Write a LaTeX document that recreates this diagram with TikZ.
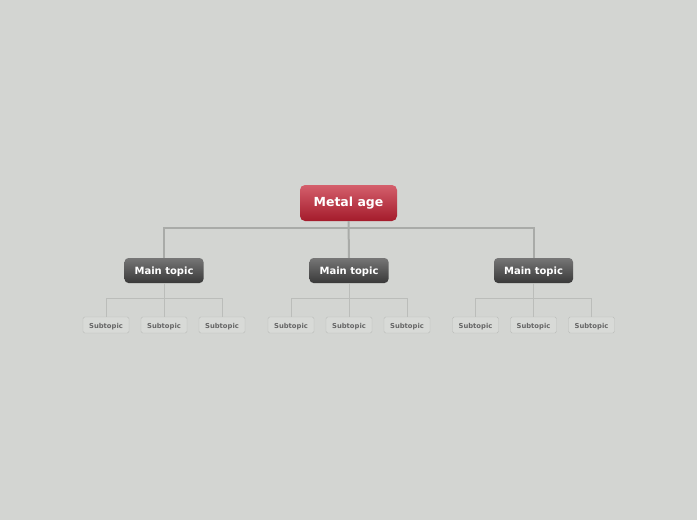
\documentclass[tikz,border=0pt]{standalone}
\usepackage{fontspec}
\usepackage{xcolor}
\newfontfamily\mapfont{DejaVu Sans}
\usetikzlibrary{shapes, calc, shadings}
\definecolor{bgGray}{HTML}{D3D5D2}
\definecolor{lineGray}{HTML}{A9ABA8}
\definecolor{subLine}{HTML}{BBBDBA}
\definecolor{subFill}{HTML}{D8DAD7}
\definecolor{rootTop}{HTML}{D45F6C}
\definecolor{rootBot}{HTML}{A41B2B}
\definecolor{mainTop}{HTML}{767676}
\definecolor{mainBot}{HTML}{393939}
\tikzset{
	roottopic/.style={rounded corners=5pt, top color=rootTop, bottom color=rootBot, text=white, font=\mapfont\bfseries\fontsize{12.5}{14}\selectfont, minimum width=97pt, minimum height=36pt, inner sep=0pt, text height=0.73em, text depth=0pt},
	maintopic/.style={rounded corners=4pt, top color=mainTop, bottom color=mainBot, text=white, font=\mapfont\bfseries\fontsize{10}{12}\selectfont, minimum width=79pt, minimum height=25pt, inner sep=0pt, text height=0.73em, text depth=0pt},
	subtopic/.style={rounded corners=1.5pt, draw=subLine, fill=subFill, text=black!60, font=\mapfont\bfseries\fontsize{6.8}{8}\selectfont, minimum width=46pt, minimum height=16pt, inner sep=0pt, text height=0.73em, text depth=0pt},
}

\begin{document}
\begin{tikzpicture}[x=1pt, y=-1pt]
	\def\W{697}
	\def\H{520}
	\fill[bgGray] (0,0) rectangle (\W,\H);
	\useasboundingbox (0,0) rectangle (\W,\H);
	
	\node[roottopic] (root) at (348.5,203) {Metal age};
	\node[maintopic] (m1) at (164,270.5) {Main topic};
	\node[maintopic] (m2) at (349,270.5) {Main topic};
	\node[maintopic] (m3) at (533.5,270.5) {Main topic};
	
	\foreach \m/\x in {1/164, 2/349, 3/533.5} {
		\node[subtopic] (s\m a) at (\x-58,325) {Subtopic};
		\node[subtopic] (s\m b) at (\x,325) {Subtopic};
		\node[subtopic] (s\m c) at (\x+58,325) {Subtopic};
		\draw[subLine, line width=1pt] (m\m.south) -- (s\m b.north);
		\draw[subLine, line width=1pt] (m\m.south) ++(0,15) -| (s\m a.north);
		\draw[subLine, line width=1pt] (m\m.south) ++(0,15) -| (s\m c.north);
	}
	
	\draw[lineGray, line width=2pt] (root.south) -- (m2.north);
	\draw[lineGray, line width=2pt] (root.south) ++(0,7) -| (m1.north);
	\draw[lineGray, line width=2pt] (root.south) ++(0,7) -| (m3.north);
\end{tikzpicture}
\end{document}
